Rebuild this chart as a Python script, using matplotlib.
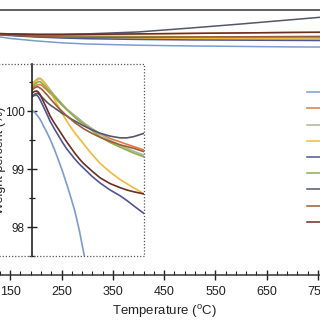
import numpy as np
import matplotlib.pyplot as plt
from matplotlib.ticker import FixedLocator
from matplotlib.patches import Rectangle

plt.rcParams['font.family'] = ['Liberation Sans', 'DejaVu Sans']

names = ['blue', 'orange', 'gray', 'yellow', 'navy', 'green', 'darkgray', 'brown', 'darkbrown']
colors = ['#7a9ccf', '#e07a3c', '#b3b29a', '#f2b93b', '#4f5595',
          '#86b04a', '#55566a', '#9a5c3a', '#6a2e22']

# main TGA curves (temperature, weight %)
t_main = [30, 100, 150, 200, 250, 300, 400, 500, 600, 700, 800]
w_main = {
    'blue':      [100.0, 99.6, 98.0, 97.0, 96.2, 95.7, 95.2, 94.9, 94.7, 94.5, 94.4],
    'orange':    [100.3, 100.2, 99.8, 99.7, 99.7, 99.8, 99.9, 100.1, 100.3, 100.5, 100.7],
    'gray':      [100.3, 100.2, 99.7, 99.3, 99.0, 98.8, 98.6, 98.5, 98.4, 98.3, 98.2],
    'yellow':    [100.4, 100.2, 99.4, 98.8, 98.5, 98.3, 98.1, 98.0, 97.9, 97.8, 97.7],
    'navy':      [100.2, 99.9, 99.2, 98.6, 98.2, 97.9, 97.6, 97.4, 97.3, 97.2, 97.1],
    'green':     [100.4, 100.3, 99.9, 99.5, 99.2, 99.0, 98.8, 98.7, 98.6, 98.5, 98.4],
    'darkgray':  [100.2, 100.2, 99.9, 99.7, 99.7, 99.9, 100.7, 102.3, 104.0, 105.8, 107.6],
    'brown':     [100.3, 100.1, 99.4, 98.9, 98.6, 98.5, 98.5, 98.6, 98.7, 98.8, 98.9],
    'darkbrown': [100.3, 100.2, 99.8, 99.6, 99.6, 99.7, 99.9, 100.1, 100.3, 100.5, 100.6],
}

# inset (zoom on the early part)
t_in = [30, 36, 42, 46, 50, 54, 58, 66, 74, 84, 94, 104, 114, 124, 134, 144, 154,
        174, 194, 218, 242, 258, 274, 300]
w_in = {
    'blue':      [100.01, 99.99, 99.94, 99.90, 99.86, 99.81, 99.75, 99.64, 99.52, 99.35, 99.16, 98.96,
                  98.74, 98.51, 98.26, 97.95, 97.58, 96.9, 96.3, 95.7, 95.3, 95.0, 94.8, 94.5],
    'orange':    [100.39, 100.43, 100.45, 100.46, 100.46, 100.45, 100.42, 100.37, 100.31, 100.24, 100.17, 100.10,
                  100.03, 99.97, 99.92, 99.86, 99.80, 99.70, 99.61, 99.53, 99.47, 99.43, 99.39, 99.33],
    'gray':      [100.46, 100.51, 100.55, 100.57, 100.57, 100.55, 100.52, 100.45, 100.37, 100.28, 100.20, 100.12,
                  100.04, 99.98, 99.92, 99.86, 99.80, 99.70, 99.60, 99.50, 99.41, 99.36, 99.31, 99.24],
    'yellow':    [100.45, 100.50, 100.53, 100.55, 100.56, 100.54, 100.51, 100.43, 100.34, 100.21, 100.08, 99.95,
                  99.83, 99.72, 99.62, 99.53, 99.44, 99.26, 99.10, 98.95, 98.82, 98.75, 98.68, 98.57],
    'navy':      [100.25, 100.27, 100.28, 100.25, 100.20, 100.14, 100.08, 99.96, 99.83, 99.70, 99.58, 99.46,
                  99.35, 99.26, 99.17, 99.09, 99.02, 98.88, 98.76, 98.64, 98.54, 98.46, 98.37, 98.23],
    'green':     [100.42, 100.46, 100.49, 100.51, 100.51, 100.49, 100.46, 100.40, 100.34, 100.26, 100.18, 100.10,
                  100.03, 99.96, 99.89, 99.83, 99.78, 99.67, 99.56, 99.46, 99.38, 99.33, 99.28, 99.21],
    'darkgray':  [100.25, 100.29, 100.31, 100.30, 100.28, 100.25, 100.22, 100.16, 100.11, 100.06, 100.01, 99.96,
                  99.92, 99.87, 99.83, 99.79, 99.75, 99.68, 99.62, 99.57, 99.54, 99.54, 99.56, 99.62],
    'brown':     [100.36, 100.40, 100.42, 100.42, 100.40, 100.38, 100.35, 100.29, 100.22, 100.14, 100.06, 99.99,
                  99.92, 99.86, 99.80, 99.75, 99.70, 99.62, 99.55, 99.48, 99.42, 99.39, 99.36, 99.30],
    'darkbrown': [100.31, 100.34, 100.35, 100.33, 100.29, 100.23, 100.17, 100.05, 99.92, 99.80, 99.69, 99.58,
                  99.47, 99.37, 99.27, 99.18, 99.10, 98.97, 98.85, 98.75, 98.68, 98.64, 98.61, 98.57],
}

fig = plt.figure(figsize=(3.2, 3.2), dpi=100)

# main axes (the crop only shows part of it)
ax = fig.add_axes([-0.1284, 0.1406, 1.2825, 0.8297])
lines = []
for n, c in zip(names, colors):
    ln, = ax.plot(t_main, w_main[n], color=c, lw=1.1)
    lines.append(ln)
ax.set_xlim(50, 850)
ax.set_ylim(0, 110)
ax.set_xticks(range(150, 751, 100))
ax.xaxis.set_minor_locator(FixedLocator(np.arange(50, 851, 20)))
ax.set_yticks([])
ax.tick_params(axis='x', which='major', direction='inout', length=7, width=1,
               labelsize=9, colors='#222222', pad=4.5)
ax.tick_params(axis='x', which='minor', direction='in', length=3, width=0.8, colors='#222222')
for s in ax.spines.values():
    s.set_color('#333333')
    s.set_linewidth(1.1)
ax.set_xlabel('Temperature ($^{\\mathregular{o}}$C)', fontsize=9.5, color='#222222', labelpad=3.5)

# inset
ins = fig.add_axes([0.099, 0.2, 0.352, 0.599])
for n, c in zip(names, colors):
    ins.plot(t_in, w_in[n], color=c, lw=1.2)
ins.set_xlim(30, 300)
ins.set_ylim(97.54, 100.81)
ins.set_yticks([98, 99, 100])
ins.set_yticks([97.5, 98.5, 99.5, 100.5], minor=True)
ins.set_xticks([])
ins.tick_params(axis='y', which='major', direction='inout', length=7, width=1,
                labelsize=8.5, colors='#222222', pad=1.5)
ins.tick_params(axis='y', which='minor', direction='inout', length=5, width=0.9, colors='#222222')
ins.spines['left'].set_color('#222222')
ins.spines['left'].set_linewidth(1.2)
for s in ['top', 'right', 'bottom']:
    ins.spines[s].set_visible(False)
ins.set_ylabel('Weight percent (%)', fontsize=9, color='#222222')
ins.yaxis.set_label_coords(-0.225, 0.5)

# dotted frame around the inset
fig.add_artist(Rectangle((-0.05, 0.2), 0.501, 0.599, transform=fig.transFigure,
                         fill=False, ls=(0, (1, 1.5)), lw=0.9, ec='#555555'))

fig.legend(lines, [''] * len(lines), loc='upper left', bbox_to_anchor=(0.959, 0.725),
           frameon=False, borderpad=0, borderaxespad=0, handlelength=2.0,
           labelspacing=0.56, fontsize=8)

fig.savefig('out.png', dpi=100)
